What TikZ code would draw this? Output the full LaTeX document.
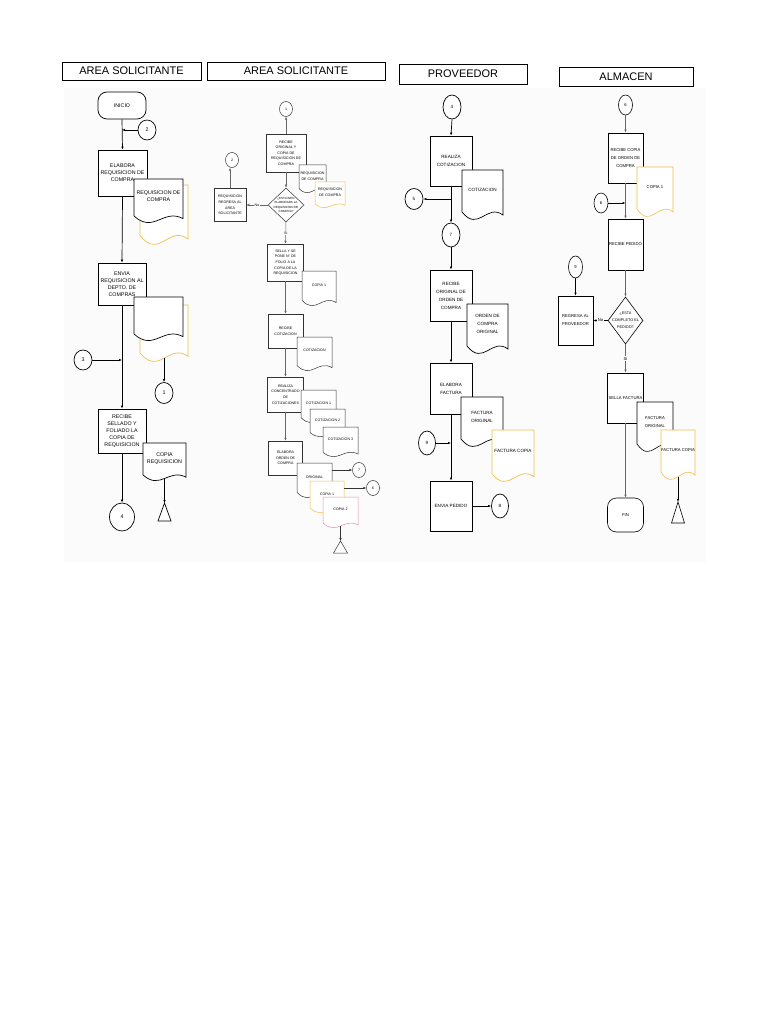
\documentclass[tikz,border=0pt]{standalone}
\usepackage{fontspec}
\setmainfont{Liberation Sans}
\usetikzlibrary{arrows.meta,shapes.geometric,calc}
\definecolor{gold}{HTML}{F0BE4A}
\definecolor{pinkc}{HTML}{E58FAE}
\definecolor{panel}{HTML}{FBFBFB}
\newcommand{\fcA}{\fontsize{5.3}{7}\selectfont}
\newcommand{\fcB}{\fontsize{3.6}{5.6}\selectfont}
\newcommand{\fcBd}{\fontsize{3.0}{4.4}\selectfont}
\newcommand{\fcC}{\fontsize{4.6}{8}\selectfont}
\newcommand{\fcD}{\fontsize{4.2}{8}\selectfont}
% document shape: name, x0, y0, w, h, colour, text
\newcommand{\docu}[7]{%
  \draw[draw=#6,fill=white] (#2,#3) -- ({#2+#4},#3) -- ({#2+#4},{#3+0.9*#5})
    .. controls ({#2+0.6*#4},{#3+0.66*#5}) and ({#2+0.4*#4},{#3+1.25*#5}) .. (#2,{#3+0.84*#5}) -- cycle;
  \node[dt] (#1) at ({#2+0.5*#4},{#3+0.4*#5}) {#7};
  \coordinate (#1-b) at ({#2+0.5*#4},{#3+0.93*#5});
  \coordinate (#1-r) at ({#2+#4},{#3+0.22*#5});
}
\tikzset{
  proc/.style={draw, fill=white, align=center, inner sep=0pt},
  conn/.style={ellipse, draw, fill=white, inner sep=0pt},
  term/.style={draw, fill=white, rounded corners=9pt, align=center, inner sep=0pt},
  dia/.style={diamond, draw, fill=white, inner sep=0pt},
  arr/.style={-{Latex[length=3pt,width=2.4pt]}},
  garr/.style={-{Latex[length=3pt,width=2.4pt]}, draw=black!60},
  dt/.style={align=center, inner sep=0pt},
  hdr/.style={draw, line width=0.8pt, fill=white, inner sep=0pt, font=\fontsize{11}{13}\selectfont},
  lbl/.style={inner sep=0.6pt, fill=panel}
}
\begin{document}
\begin{tikzpicture}[x=1pt,y=-1pt]
\useasboundingbox (0,0) rectangle (768,1024);
\fill[white] (0,0) rectangle (768,1024);
\fill[panel] (64,88) rectangle (706,562);

% headers
\node[hdr, minimum width=139, minimum height=18] (h1) at (131.5,71) {AREA SOLICITANTE};
\node[hdr, minimum width=178, minimum height=18] (h2) at (296,71) {AREA SOLICITANTE};
\node[hdr, minimum width=128, minimum height=20] (h3) at (463,74) {PROVEEDOR};
\node[hdr, minimum width=134, minimum height=19] (h4) at (626,76.5) {ALMACEN};

% ---------------- column 1 ----------------
\begin{scope}[line width=0.7pt, every node/.append style={font=\fcA}]
\node[term, minimum width=48, minimum height=27] (inicio) at (122,105.5) {INICIO};
\node[conn, minimum width=18, minimum height=20] (c2a) at (147,130) {2};
\node[proc, minimum width=49, minimum height=46] (b11) at (122.5,173) {ELABORA\\REQUISICION DE\\COMPRA};
\docu{g11}{140}{185}{48}{60}{gold}{}
\docu{d11}{134}{179}{49}{44}{black}{REQUISICION DE\\COMPRA}
\node[proc, minimum width=48, minimum height=42] (b12) at (122,284) {ENVIA\\REQUISICION AL\\DEPTO. DE\\COMPRAS};
\docu{g12}{140}{305}{48}{57}{gold}{}
\docu{d12}{134}{297}{49}{44}{black}{}
\node[conn, minimum width=18, minimum height=21] (c1a) at (164,393) {1};
\node[conn, minimum width=18, minimum height=20] (c3a) at (83,360) {3};
\node[proc, minimum width=48, minimum height=44] (b13) at (122,431) {RECIBE\\SELLADO Y\\FOLIADO LA\\COPIA DE\\REQUISICION};
\docu{d13}{143}{443}{43}{38}{black}{COPIA\\REQUISICION}
\coordinate (t1) at (164.5,503);
\draw[fill=white] (t1) -- ++(6.5,18) -- ++(-13,0) -- cycle;
\node[conn, minimum width=25, minimum height=28] (c4a) at (122,517) {4};
\draw[arr] (inicio.south) -- (b11.north);
\draw[arr] (c2a.west) -- (c2a.west -| inicio.south);
\draw[arr] (b11.south) -- (b12.north);
\draw[arr] (b12.south) -- (b13.north);
\draw[arr] (c3a.east) -- (c3a.east -| b12.south);
\draw[arr] (g12-b) -- (g12-b |- c1a.north);
\draw[arr] (b13.south) -- (c4a.north);
\draw[arr] (d13-b) -- (t1);
\end{scope}

% ---------------- column 2 ----------------
\begin{scope}[line width=0.5pt, draw=black!80, every node/.append style={font=\fcB}]
\node[conn, minimum width=13, minimum height=15] (c1b) at (286,109) {1};
\node[proc, minimum width=40, minimum height=38] (b21) at (286,153) {RECIBE\\ORIGINAL Y\\COPIA DE\\REQUISICION DE\\COMPRA};
\docu{d21}{299}{165}{27}{28}{black!80}{REQUISICION\\DE COMPRA}
\docu{g21}{315}{182}{30}{26}{gold}{REQUISICION\\DE COMPRA}
\node[dia, minimum width=36, minimum height=34] (dia1) at (286,205) {};
\node[dt, font=\fcBd] (dia1t) at (dia1) {¿ESTA BIEN\\ELABORADA LA\\REQUISICION DE\\COMPRA?};
\node[proc, minimum width=32, minimum height=33] (b22) at (230,205) {REQUISICION\\REGRESA AL\\AREA\\SOLICITANTE};
\node[conn, minimum width=13, minimum height=15] (c2b) at (232,160) {2};
\node[proc, minimum width=36, minimum height=37] (b23) at (285.5,262.5) {SELLA Y SE\\PONE N° DE\\FOLIO A LA\\COPIA DE LA\\REQUISICION};
\docu{d23}{302}{271}{34}{35}{black!80}{COPIA 1}
\node[proc, minimum width=35, minimum height=34] (b24) at (285.5,331) {RECIBE\\COTIZACION};
\docu{d24}{297}{337}{35}{34}{black!80}{COTIZACION}
\node[proc, minimum width=36, minimum height=35] (b25) at (285.5,394.5) {REALIZA\\CONCENTRADO\\DE\\COTIZACIONES};
\docu{d25a}{301}{390}{35}{33}{black!80}{COTIZACION 1}
\docu{d25b}{310}{409}{35}{28}{black!80}{COTIZACION 2}
\docu{d25c}{323}{427}{35}{30}{black!80}{COTIZACION 3}
\node[proc, minimum width=34, minimum height=34] (b26) at (285.5,458) {ELABORA\\ORDEN DE\\COMPRA};
\docu{d26a}{297}{463}{35}{35}{black!80}{ORIGINAL}
\docu{d26b}{310}{481}{34}{32}{gold}{COPIA 1}
\docu{d26c}{323}{497}{35}{31}{pinkc}{COPIA 2}
\node[conn, minimum width=13, minimum height=15] (c7b) at (359,470) {7};
\node[conn, minimum width=13, minimum height=15] (c6b) at (373,488) {6};
\coordinate (t2) at (340.5,541);
\draw[fill=white] (t2) -- ++(7,12) -- ++(-14,0) -- cycle;
\draw[garr] (b21.north) -- (c1b.south);
\draw[garr] (b21.south) -- (dia1.north);
\draw[garr] (dia1.west) -- node[lbl] (no1) {No} (dia1.west -| b22.east);
\draw[garr] (b22.north) -- (b22.north |- c2b.south);
\draw[garr] (dia1.south) -- node[lbl] (si1) {Si} (b23.north);
\draw[garr] (b23.south) -- (b24.north);
\draw[garr] (b24.south) -- (b25.north);
\draw[garr] (b25.south) -- (b26.north);
\draw[arr] (c7b.west -| d26a-r) -- (c7b.west);
\draw[arr] (c6b.west -| d26b-r) -- (c6b.west);
\draw[arr] (d26c-b) -- (t2);
\end{scope}

% ---------------- column 3 ----------------
\begin{scope}[line width=0.7pt, every node/.append style={font=\fcC}]
\node[conn, minimum width=18, minimum height=24] (c4c) at (452,107) {4};
\node[proc, minimum width=42, minimum height=50] (b31) at (451,161) {REALIZA\\COTIZACION};
\docu{d31}{462}{170}{41}{50}{black}{COTIZACION}
\node[conn, minimum width=18, minimum height=21] (c5c) at (414,199) {5};
\node[conn, minimum width=18, minimum height=24] (c7c) at (451,235) {7};
\node[proc, minimum width=42, minimum height=51] (b32) at (451,295.5) {RECIBE\\ORIGINAL DE\\ORDEN DE\\COMPRA};
\docu{d32}{467}{304}{41}{50}{black}{ORDEN DE\\COMPRA\\ORIGINAL}
\node[proc, minimum width=42, minimum height=51] (b33) at (451,388.5) {ELABORA\\FACTURA};
\docu{d33}{461}{397}{42}{50}{black}{FACTURA\\ORIGINAL}
\docu{g33}{492}{430}{42}{52}{gold}{FACTURA COPIA}
\node[conn, minimum width=17, minimum height=24] (c9c) at (427,443) {9};
\node[proc, minimum width=42, minimum height=50] (b34) at (451,506) {ENVIA PEDIDO};
\node[conn, minimum width=17, minimum height=24] (c8c) at (500,506) {8};
\draw[arr] (c4c.south) -- (b31.north);
\draw[arr] (b31.south) -- (c7c.north);
\draw[arr] (c5c.east -| b31.south) -- (c5c.east);
\draw[arr] (c7c.south) -- (b32.north);
\draw[arr] (b32.south) -- (b33.north);
\draw[arr] (b33.south) -- (b34.north);
\draw[arr] (c9c.east) -- (c9c.east -| b33.south);
\draw[arr] (b34.east) -- (c8c.west);
\end{scope}

% ---------------- column 4 ----------------
\begin{scope}[line width=0.6pt, every node/.append style={font=\fcD}]
\node[conn, minimum width=14, minimum height=20] (c6d) at (625.5,105) {6};
\node[proc, minimum width=35, minimum height=50] (b41) at (625.5,158) {RECIBE COPIA\\DE ORDEN DE\\COMPRA};
\docu{g41}{637}{167}{36}{50}{gold}{COPIA 1}
\node[conn, minimum width=14, minimum height=20] (c6e) at (601,203) {6};
\node[proc, minimum width=35, minimum height=51] (b42) at (625.5,244.5) {RECIBE PEDIDO};
\node[dia, minimum width=35, minimum height=47] (dia2) at (625.5,320.5) {};
\node[dt, font=\fontsize{3.8}{7}\selectfont] (dia2t) at (dia2) {¿ESTA\\COMPLETO EL\\PEDIDO?};
\node[proc, minimum width=35, minimum height=49] (b43) at (575.5,320.5) {REGRESA AL\\PROVEEDOR};
\node[conn, minimum width=14, minimum height=22] (c9d) at (575.5,267) {9};
\node[proc, minimum width=36, minimum height=50] (b44) at (625.5,398) {SELLA FACTURA};
\docu{d44}{637}{402}{36}{50}{black}{FACTURA\\ORIGINAL}
\docu{g44}{661}{430}{34}{50}{gold}{FACTURA COPIA}
\coordinate (t4) at (678,502);
\draw[fill=white] (t4) -- ++(6.5,21) -- ++(-13,0) -- cycle;
\node[term, minimum width=36, minimum height=34] (fin) at (625.5,515) {FIN};
\draw[garr] (c6d.south) -- (b41.north);
\draw[garr] (b41.south) -- (b42.north);
\draw[arr] (c6e.east) -- (c6e.east -| b41.south);
\draw[garr] (b42.south) -- (dia2.north);
\draw[arr] (dia2.west) -- node[lbl] (no2) {No} (b43.east);
\draw[arr] (c9d.south) -- (b43.north);
\draw[garr] (dia2.south) -- node[lbl] (si2) {Si} (b44.north);
\draw[garr] (b44.south) -- (fin.north);
\draw[arr] (g44-b) -- (t4);
\end{scope}
\end{tikzpicture}
\end{document}
